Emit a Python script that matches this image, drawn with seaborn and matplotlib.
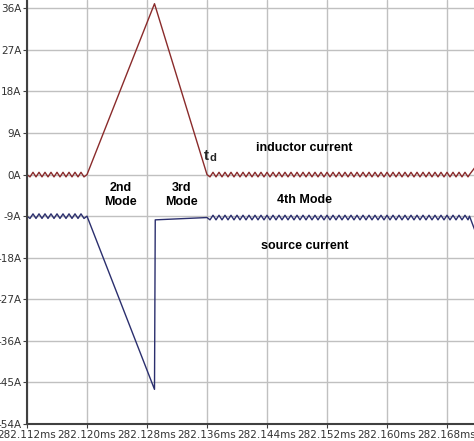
import numpy as np
import pandas as pd
import seaborn as sns
import matplotlib.pyplot as plt

# key points (time in ms offset from 282.112, current in A)
ind_t = [0.0, 8.0, 17.0, 24.0, 59.0, 59.7]
ind_i = [0.0, 0.0, 37.0, 0.0, 0.0, 1.5]
src_t = [0.0, 8.0, 17.0, 17.1, 24.0, 59.0, 59.7]
src_i = [-9.0, -9.0, -46.5, -9.8, -9.3, -9.0, -12.0]
ripple = [0.5, -0.5]          # switching ripple, half-period 0.4 us
ripple_step = 0.4e-3 * 1000   # in us
ripple_zones = [(0.0, 8.0), (24.0, 59.0)]

xticks = [282.112, 282.120, 282.128, 282.136, 282.144, 282.152, 282.160, 282.168]
yticks = [-54, -45, -36, -27, -18, -9, 0, 9, 18, 27, 36]


def build(tk, ik, with_ripple):
    t = []
    v = []
    for k in range(len(tk) - 1):
        a, b = tk[k], tk[k + 1]
        rip = with_ripple and any(abs(a - z[0]) < 1e-9 and abs(b - z[1]) < 1e-9 for z in ripple_zones)
        if rip:
            pts = np.arange(a, b, ripple_step)
            for j, p in enumerate(pts):
                t.append(p)
                v.append(ik[k] + (ripple[j % 2] if j > 0 else 0))
        else:
            t.append(a)
            v.append(ik[k])
    t.append(tk[-1])
    v.append(ik[-1])
    return 282.112 + np.array(t) / 1000.0, np.array(v)


ti, vi = build(ind_t, ind_i, True)
ts, vs = build(src_t, src_i, True)
df = pd.concat([
    pd.DataFrame({"t": ti, "i": vi, "s": "inductor"}),
    pd.DataFrame({"t": ts, "i": vs, "s": "source"}),
])

sns.set_style("white")
fig = plt.figure(figsize=(4.74, 4.41), dpi=100)
ax = fig.add_axes([27 / 474, 17 / 441, 1 - 27 / 474, 1 - 17 / 441])
sns.lineplot(data=df, x="t", y="i", hue="s", palette=["#8a2b2b", "#2b2f6e"],
             sort=False, estimator=None, lw=1.0, legend=False, ax=ax)

ax.set_xlim(282.112, 282.1716)
ax.set_ylim(-54, 37.8)
ax.set_xticks(xticks)
ax.set_xticklabels([f"{x:.3f}ms" for x in xticks])
ax.set_yticks(yticks)
ax.set_yticklabels([f"{y}A" for y in yticks])
ax.grid(True, color="#c0c0c0", lw=1)
ax.tick_params(axis="both", labelsize=7.5, length=3, pad=1, direction="out", color="#404040")
ax.tick_params(axis="both", which="both", left=True, bottom=True, labelcolor="#333333")
ax.set_xlabel("")
ax.set_ylabel("")
for sp in ["top", "right"]:
    ax.spines[sp].set_visible(False)
for sp in ["left", "bottom"]:
    ax.spines[sp].set_color("#404040")
    ax.spines[sp].set_linewidth(1.5)

kw = dict(fontsize=9, fontweight="bold", family="Liberation Sans", color="black")
ax.text(282.1245, -4.5, "2nd\nMode", ha="center", va="center", **kw)
ax.text(282.1326, -4.5, "3rd\nMode", ha="center", va="center", **kw)
ax.text(282.1356, 4.0, "t", ha="left", va="center", fontsize=11, fontweight="bold", family="Liberation Sans")
ax.text(282.1364, 3.6, "d", ha="left", va="center", fontsize=8, fontweight="bold", family="Liberation Sans")
ax.text(282.1490, 5.8, "inductor current", ha="center", va="center", **kw)
ax.text(282.1490, -5.5, "4th Mode", ha="center", va="center", **kw)
ax.text(282.1490, -15.5, "source current", ha="center", va="center", **kw)

fig.savefig("out.png", dpi=100)
